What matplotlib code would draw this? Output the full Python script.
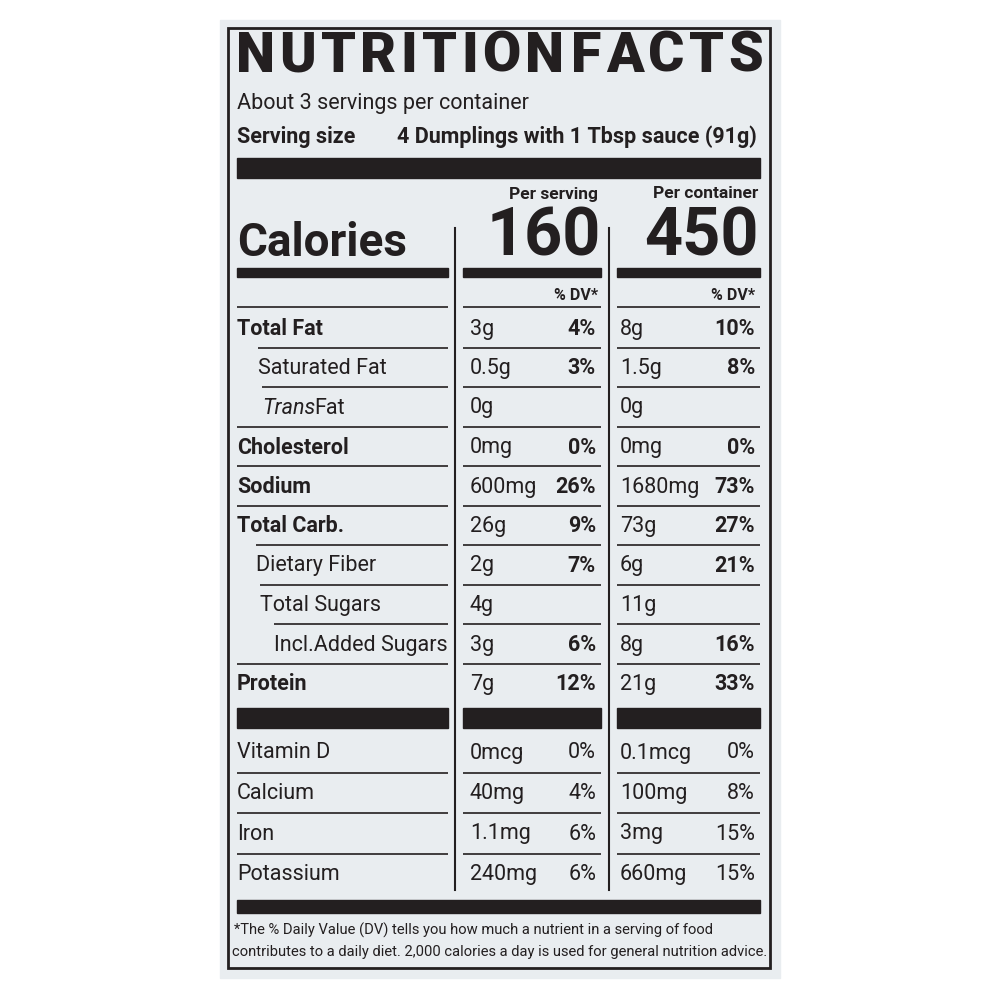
import matplotlib
matplotlib.use("Agg")
import matplotlib.pyplot as plt

nutrients = ["Total Fat", "Saturated Fat", "Trans Fat", "Cholesterol", "Sodium", "Total Carb.",
             "Dietary Fiber", "Total Sugars", "Incl.Added Sugars", "Protein"]
bold = [True, False, False, True, True, True, False, False, False, True]
indent = [0, 21, 25, 0, 0, 0, 19, 23, 37, 0]
serv_amt = ["3g", "0.5g", "0g", "0mg", "600mg", "26g", "2g", "4g", "3g", "7g"]
serv_dv = ["4%", "3%", "", "0%", "26%", "9%", "7%", "", "6%", "12%"]
cont_amt = ["8g", "1.5g", "0g", "0mg", "1680mg", "73g", "6g", "11g", "8g", "21g"]
cont_dv = ["10%", "8%", "", "0%", "73%", "27%", "21%", "", "16%", "33%"]

vitamins = ["Vitamin D", "Calcium", "Iron", "Potassium"]
vit_serv_amt = ["0mcg", "40mg", "1.1mg", "240mg"]
vit_serv_dv = ["0%", "4%", "6%", "6%"]
vit_cont_amt = ["0.1mcg", "100mg", "3mg", "660mg"]
vit_cont_dv = ["0%", "8%", "15%", "15%"]

cal_serv, cal_cont = "160", "450"
title = "NUTRITION FACTS"

plt.rcParams['font.family'] = ['Roboto', 'DejaVu Sans']
fig = plt.figure(figsize=(10, 10), dpi=100)
ax = fig.add_axes([0, 0, 1, 1])
ax.set_xlim(0, 1000); ax.set_ylim(1000, 0); ax.axis('off')
fig.patch.set_facecolor('white')
K = '#231f20'
ax.add_patch(plt.Rectangle((220, 20), 560, 958, color='#e9edf0', zorder=0))
ax.add_patch(plt.Rectangle((228, 28), 542, 940, fill=False, ec=K, lw=2))

def hl(y, x0, x1, lw):
    ax.plot([x0, x1], [y, y], color=K, lw=lw, solid_capstyle='butt')

# title with letter spacing filling 236..765
renderer = fig.canvas.get_renderer()
chars = [c for c in title]
arts, widths = [], []
for c in chars:
    t = ax.text(0, 56, c if c != " " else "N", va='center', fontsize=40, fontweight='black', color=K)
    widths.append(t.get_window_extent(renderer).width)
    if c == " ":
        t.remove(); arts.append(None)
    else:
        arts.append(t)
x0t, x1t = 236, 765
letter_w = sum(w for c, w in zip(chars, widths) if c != " ")
gap = (x1t - x0t - letter_w) / (len(chars) - 1 + 0.0)
x = x0t
for c, t, w in zip(chars, arts, widths):
    if t is not None:
        t.set_x(x)
        x += w + gap
    else:
        x += gap * 0.6
ax.text(237, 104, "About 3 servings per container", va='center', fontsize=15.5, color=K)
ax.text(237, 137, "Serving size", va='center', fontsize=15.5, fontweight='bold', color=K)
ax.text(757, 137, "4 Dumplings with 1 Tbsp sauce (91g)", va='center', ha='right', fontsize=15.5, fontweight='bold', color=K)
ax.add_patch(plt.Rectangle((237, 158), 523, 20, color=K))
ax.text(598, 194, "Per serving", ha='right', va='center', fontsize=12.5, fontweight='bold', color=K)
ax.text(758, 194, "Per container", ha='right', va='center', fontsize=12.5, fontweight='bold', color=K)
ax.text(601, 238, cal_serv, ha='right', va='center', fontsize=48, fontweight='bold', color=K)
ax.text(759, 238, cal_cont, ha='right', va='center', fontsize=48, fontweight='bold', color=K)
ax.text(237, 243, "Calories", va='center', fontsize=33, fontweight='bold', color=K)

cols = [(237, 448), (463, 601), (617, 760)]
for x0, x1 in cols:
    ax.add_patch(plt.Rectangle((x0, 268), x1 - x0, 9, color=K))
for xv in (455, 609):
    ax.plot([xv, xv], [228, 890], color=K, lw=1.5)
ax.text(598, 295, "% DV*", ha='right', va='center', fontsize=11.5, fontweight='bold', color=K)
ax.text(755, 295, "% DV*", ha='right', va='center', fontsize=11.5, fontweight='bold', color=K)
for x0, x1 in cols:
    hl(307, x0, x1, 1.2)

fs = 15.5
def row(y, label, b, ind, sa, sd, ca, cd, dvbold):
    w = 'bold' if b else 'normal'
    if label == "Trans Fat":
        ax.text(237 + ind, y, "Trans", va='center', fontsize=fs, style='italic', color=K)
        ax.text(237 + ind + 52, y, "Fat", va='center', fontsize=fs, color=K)
    else:
        ax.text(237 + ind, y, label, va='center', fontsize=fs, fontweight=w, color=K)
    dw = 'bold' if dvbold else 'normal'
    ax.text(470, y, sa, va='center', fontsize=fs, color=K)
    ax.text(596, y, sd, va='center', ha='right', fontsize=fs, fontweight=dw, color=K)
    ax.text(620, y, ca, va='center', fontsize=fs, color=K)
    ax.text(755, y, cd, va='center', ha='right', fontsize=fs, fontweight=dw, color=K)

step = 39.5
for i in range(len(nutrients)):
    y = 329 + i * step
    row(y, nutrients[i], bold[i], indent[i], serv_amt[i], serv_dv[i], cont_amt[i], cont_dv[i], True)
    if i < len(nutrients) - 1:
        for x0, x1 in cols:
            hl(y + 18.5, x0 + (indent[i + 1] if x0 == 237 else 0), x1, 1.2)
for x0, x1 in cols:
    ax.add_patch(plt.Rectangle((x0, 708), x1 - x0, 20, color=K))
for i in range(len(vitamins)):
    y = 753 + i * 40.5
    row(y, vitamins[i], False, 0, vit_serv_amt[i], vit_serv_dv[i], vit_cont_amt[i], vit_cont_dv[i], False)
    if i < len(vitamins) - 1:
        for x0, x1 in cols:
            hl(y + 19.5, x0, x1, 1.2)
ax.add_patch(plt.Rectangle((237, 900), 523, 13, color=K))
ax.text(234, 930, "*The % Daily Value (DV) tells you how much a nutrient in a serving of food",
        va='center', fontsize=10.6, color=K)
ax.text(767, 952, "contributes to a daily diet. 2,000 calories a day is used for general nutrition advice.",
        va='center', ha='right', fontsize=10.6, color=K)
fig.savefig("out.png", dpi=100)
